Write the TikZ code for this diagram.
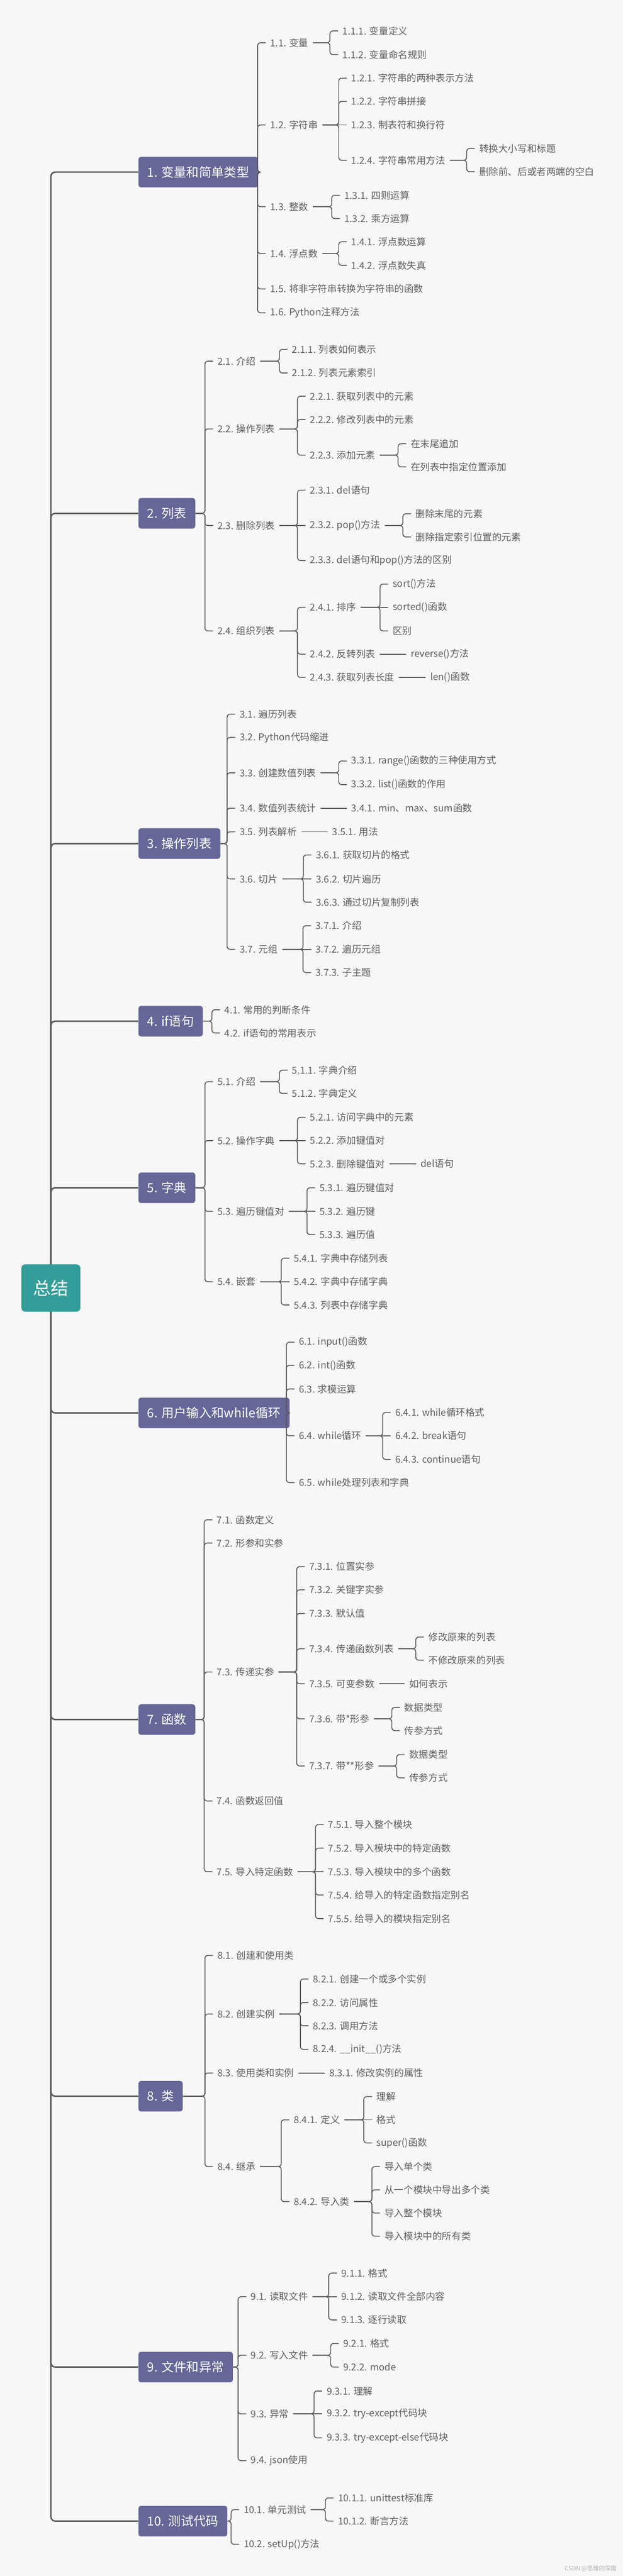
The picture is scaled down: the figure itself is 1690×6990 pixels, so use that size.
\documentclass[tikz,border=0pt]{standalone}
\usepackage{fontspec}
\setmainfont{Noto Sans CJK SC}
\usetikzlibrary{calc,positioning,backgrounds}

\definecolor{bgcol}{HTML}{F7F7F7}
\definecolor{topiccol}{HTML}{666699}
\definecolor{rootcol}{HTML}{339E99}
\definecolor{linecol}{HTML}{5A5A5A}
\definecolor{textcol}{HTML}{606060}

\tikzset{
  leaf/.style={anchor=west, xshift=-6pt, inner xsep=6pt, inner ysep=3pt, text=textcol, font=\fontsize{13pt}{15pt}\selectfont},
  topic/.style={anchor=west, fill=topiccol, rounded corners=4pt, text=white, inner xsep=12pt, minimum height=41.5pt, font=\fontsize{17pt}{20pt}\selectfont},
  link/.style={draw=linecol, line width=1.2pt, rounded corners=4pt},
  spine/.style={draw=linecol, line width=2pt, rounded corners=6pt}
}

% parent -> children through a vertical bus (straight when on the same row)
\newcommand\kids[2]{\foreach \c in {#2}{%
  \pgfpointdiff{\pgfpointanchor{#1}{east}}{\pgfpointanchor{\c}{west}}%
  \pgfgetlastxy{\kdx}{\kdy}%
  \pgfmathparse{abs(\kdy)<1?1:0}%
  \ifnum\pgfmathresult=1
    \draw[link] (#1.east) -- (\c.west);
  \else
    \draw[link] (#1.east) -- ($(#1.east -| \c.west)+(-11pt,0)$) |- (\c.west);
  \fi}}

\begin{document}
\begin{tikzpicture}[x=0.5pt,y=-0.5pt]

\fill[bgcol] (0,0) rectangle (1690,6990);

\node[fill=rootcol, rounded corners=5pt, text=white, minimum width=80pt, minimum height=64pt, font=\fontsize{24pt}{28pt}\selectfont] (root) at (138,3495) {总结};

% 1
\node[topic] (n1) at (375,467) {1. 变量和简单类型};
\node[leaf] (n11) at (733,116) {1.1. 变量};
\node[leaf] (n111) at (929,84) {1.1.1. 变量定义};
\node[leaf] (n112) at (929,148) {1.1.2. 变量命名规则};
\node[leaf] (n12) at (733,339) {1.2. 字符串};
\node[leaf] (n121) at (953,212) {1.2.1. 字符串的两种表示方法};
\node[leaf] (n122) at (953,275) {1.2.2. 字符串拼接};
\node[leaf] (n123) at (953,339) {1.2.3. 制表符和换行符};
\node[leaf] (n124) at (953,435) {1.2.4. 字符串常用方法};
\node[leaf] (n124a) at (1300,403) {转换大小写和标题};
\node[leaf] (n124b) at (1300,466) {删除前、后或者两端的空白};
\node[leaf] (n13) at (733,561) {1.3. 整数};
\node[leaf] (n131) at (934,530) {1.3.1. 四则运算};
\node[leaf] (n132) at (934,593) {1.3.2. 乘方运算};
\node[leaf] (n14) at (733,688) {1.4. 浮点数};
\node[leaf] (n141) at (953,656) {1.4.1. 浮点数运算};
\node[leaf] (n142) at (953,720) {1.4.2. 浮点数失真};
\node[leaf] (n15) at (733,784) {1.5. 将非字符串转换为字符串的函数};
\node[leaf] (n16) at (733,849) {1.6. Python注释方法};
\kids{n1}{n11,n12,n13,n14,n15,n16}
\kids{n11}{n111,n112}
\kids{n12}{n121,n122,n123,n124}
\kids{n124}{n124a,n124b}
\kids{n13}{n131,n132}
\kids{n14}{n141,n142}

% 2
\node[topic] (n2) at (375,1393) {2. 列表};
\node[leaf] (n21) at (590,980) {2.1. 介绍};
\node[leaf] (n211) at (792,948) {2.1.1. 列表如何表示};
\node[leaf] (n212) at (792,1012) {2.1.2. 列表元素索引};
\node[leaf] (n22) at (590,1164) {2.2. 操作列表};
\node[leaf] (n221) at (841,1075) {2.2.1. 获取列表中的元素};
\node[leaf] (n222) at (841,1138) {2.2.2. 修改列表中的元素};
\node[leaf] (n223) at (841,1235) {2.2.3. 添加元素};
\node[leaf] (n223a) at (1114,1204) {在末尾追加};
\node[leaf] (n223b) at (1114,1267) {在列表中指定位置添加};
\node[leaf] (n23) at (590,1426) {2.3. 删除列表};
\node[leaf] (n231) at (841,1330) {2.3.1. del语句};
\node[leaf] (n232) at (841,1426) {2.3.2. pop()方法};
\node[leaf] (n232a) at (1127,1394) {删除末尾的元素};
\node[leaf] (n232b) at (1127,1457) {删除指定索引位置的元素};
\node[leaf] (n233) at (841,1521) {2.3.3. del语句和pop()方法的区别};
\node[leaf] (n24) at (590,1712) {2.4. 组织列表};
\node[leaf] (n241) at (841,1648) {2.4.1. 排序};
\node[leaf] (n241a) at (1065,1585) {sort()方法};
\node[leaf] (n241b) at (1065,1648) {sorted()函数};
\node[leaf] (n241c) at (1065,1712) {区别};
\node[leaf] (n242) at (841,1775) {2.4.2. 反转列表};
\node[leaf] (n242a) at (1114,1775) {reverse()方法};
\node[leaf] (n243) at (841,1838) {2.4.3. 获取列表长度};
\node[leaf] (n243a) at (1167,1838) {len()函数};
\kids{n2}{n21,n22,n23,n24}
\kids{n21}{n211,n212}
\kids{n22}{n221,n222,n223}
\kids{n223}{n223a,n223b}
\kids{n23}{n231,n232,n233}
\kids{n232}{n232a,n232b}
\kids{n24}{n241,n242,n243}
\kids{n241}{n241a,n241b,n241c}
\kids{n242}{n242a}
\kids{n243}{n243a}

% 3
\node[topic] (n3) at (375,2289) {3. 操作列表};
\node[leaf] (n31) at (650,1938) {3.1. 遍历列表};
\node[leaf] (n32) at (650,2001) {3.2. Python代码缩进};
\node[leaf] (n33) at (650,2097) {3.3. 创建数值列表};
\node[leaf] (n331) at (953,2065) {3.3.1. range()函数的三种使用方式};
\node[leaf] (n332) at (953,2129) {3.3.2. list()函数的作用};
\node[leaf] (n34) at (650,2193) {3.4. 数值列表统计};
\node[leaf] (n341) at (953,2193) {3.4.1. min、max、sum函数};
\node[leaf] (n35) at (650,2257) {3.5. 列表解析};
\node[leaf] (n351) at (901,2257) {3.5.1. 用法};
\node[leaf] (n36) at (650,2385) {3.6. 切片};
\node[leaf] (n361) at (857,2320) {3.6.1. 获取切片的格式};
\node[leaf] (n362) at (857,2385) {3.6.2. 切片遍历};
\node[leaf] (n363) at (857,2448) {3.6.3. 通过切片复制列表};
\node[leaf] (n37) at (650,2576) {3.7. 元组};
\node[leaf] (n371) at (856,2512) {3.7.1. 介绍};
\node[leaf] (n372) at (856,2576) {3.7.2. 遍历元组};
\node[leaf] (n373) at (856,2639) {3.7.3. 子主题};
\kids{n3}{n31,n32,n33,n34,n35,n36,n37}
\kids{n33}{n331,n332}
\kids{n34}{n341}
\kids{n35}{n351}
\kids{n36}{n361,n362,n363}
\kids{n37}{n371,n372,n373}

% 4
\node[topic] (n4) at (375,2771) {4. if语句};
\node[leaf] (n41) at (609,2740) {4.1. 常用的判断条件};
\node[leaf] (n42) at (609,2803) {4.2. if语句的常用表示};
\kids{n4}{n41,n42}

% 5
\node[topic] (n5) at (375,3223) {5. 字典};
\node[leaf] (n51) at (590,2935) {5.1. 介绍};
\node[leaf] (n511) at (792,2904) {5.1.1. 字典介绍};
\node[leaf] (n512) at (792,2967) {5.1.2. 字典定义};
\node[leaf] (n52) at (590,3095) {5.2. 操作字典};
\node[leaf] (n521) at (841,3032) {5.2.1. 访问字典中的元素};
\node[leaf] (n522) at (841,3095) {5.2.2. 添加键值对};
\node[leaf] (n523) at (841,3158) {5.2.3. 删除键值对};
\node[leaf] (n523a) at (1141,3158) {del语句};
\node[leaf] (n53) at (590,3287) {5.3. 遍历键值对};
\node[leaf] (n531) at (867,3223) {5.3.1. 遍历键值对};
\node[leaf] (n532) at (867,3287) {5.3.2. 遍历键};
\node[leaf] (n533) at (867,3350) {5.3.3. 遍历值};
\node[leaf] (n54) at (590,3478) {5.4. 嵌套};
\node[leaf] (n541) at (797,3414) {5.4.1. 字典中存储列表};
\node[leaf] (n542) at (797,3478) {5.4.2. 字典中存储字典};
\node[leaf] (n543) at (797,3541) {5.4.3. 列表中存储字典};
\kids{n5}{n51,n52,n53,n54}
\kids{n51}{n511,n512}
\kids{n52}{n521,n522,n523}
\kids{n523}{n523a}
\kids{n53}{n531,n532,n533}
\kids{n54}{n541,n542,n543}

% 6
\node[topic] (n6) at (375,3834) {6. 用户输入和while循环};
\node[leaf] (n61) at (811,3642) {6.1. input()函数};
\node[leaf] (n62) at (811,3705) {6.2. int()函数};
\node[leaf] (n63) at (811,3769) {6.3. 求模运算};
\node[leaf] (n64) at (811,3896) {6.4. while循环};
\node[leaf] (n641) at (1072,3833) {6.4.1. while循环格式};
\node[leaf] (n642) at (1072,3896) {6.4.2. break语句};
\node[leaf] (n643) at (1072,3960) {6.4.3. continue语句};
\node[leaf] (n65) at (811,4023) {6.5. while处理列表和字典};
\kids{n6}{n61,n62,n63,n64,n65}
\kids{n64}{n641,n642,n643}

% 7
\node[topic] (n7) at (375,4666) {7. 函数};
\node[leaf] (n71) at (588,4124) {7.1. 函数定义};
\node[leaf] (n72) at (588,4187) {7.2. 形参和实参};
\node[leaf] (n73) at (588,4537) {7.3. 传递实参};
\node[leaf] (n731) at (839,4251) {7.3.1. 位置实参};
\node[leaf] (n732) at (839,4314) {7.3.2. 关键字实参};
\node[leaf] (n733) at (839,4378) {7.3.3. 默认值};
\node[leaf] (n734) at (839,4474) {7.3.4. 传递函数列表};
\node[leaf] (n734a) at (1162,4442) {修改原来的列表};
\node[leaf] (n734b) at (1162,4505) {不修改原来的列表};
\node[leaf] (n735) at (839,4569) {7.3.5. 可变参数};
\node[leaf] (n735a) at (1110,4569) {如何表示};
\node[leaf] (n736) at (839,4664) {7.3.6. 带*形参};
\node[leaf] (n736a) at (1097,4633) {数据类型};
\node[leaf] (n736b) at (1097,4696) {传参方式};
\node[leaf] (n737) at (839,4792) {7.3.7. 带**形参};
\node[leaf] (n737a) at (1110,4761) {数据类型};
\node[leaf] (n737b) at (1110,4824) {传参方式};
\node[leaf] (n74) at (588,4887) {7.4. 函数返回值};
\node[leaf] (n75) at (588,5079) {7.5. 导入特定函数};
\node[leaf] (n751) at (890,4951) {7.5.1. 导入整个模块};
\node[leaf] (n752) at (890,5015) {7.5.2. 导入模块中的特定函数};
\node[leaf] (n753) at (890,5079) {7.5.3. 导入模块中的多个函数};
\node[leaf] (n754) at (890,5142) {7.5.4. 给导入的特定函数指定别名};
\node[leaf] (n755) at (890,5206) {7.5.5. 给导入的模块指定别名};
\kids{n7}{n71,n72,n73,n74,n75}
\kids{n73}{n731,n732,n733,n734,n735,n736,n737}
\kids{n734}{n734a,n734b}
\kids{n735}{n735a}
\kids{n736}{n736a,n736b}
\kids{n737}{n737a,n737b}
\kids{n75}{n751,n752,n753,n754,n755}

% 8
\node[topic] (n8) at (375,5688) {8. 类};
\node[leaf] (n81) at (590,5306) {8.1. 创建和使用类};
\node[leaf] (n82) at (590,5465) {8.2. 创建实例};
\node[leaf] (n821) at (849,5370) {8.2.1. 创建一个或多个实例};
\node[leaf] (n822) at (849,5434) {8.2.2. 访问属性};
\node[leaf] (n823) at (849,5497) {8.2.3. 调用方法};
\node[leaf] (n824) at (849,5561) {8.2.4. \_\_init\_\_()方法};
\node[leaf] (n83) at (590,5625) {8.3. 使用类和实例};
\node[leaf] (n831) at (893,5625) {8.3.1. 修改实例的属性};
\node[leaf] (n84) at (590,5879) {8.4. 继承};
\node[leaf] (n841) at (797,5752) {8.4.1. 定义};
\node[leaf] (n841a) at (1021,5689) {理解};
\node[leaf] (n841b) at (1021,5752) {格式};
\node[leaf] (n841c) at (1021,5815) {super()函数};
\node[leaf] (n842) at (797,5974) {8.4.2. 导入类};
\node[leaf] (n842a) at (1043,5879) {导入单个类};
\node[leaf] (n842b) at (1043,5942) {从一个模块中导出多个类};
\node[leaf] (n842c) at (1043,6005) {导入整个模块};
\node[leaf] (n842d) at (1043,6068) {导入模块中的所有类};
\kids{n8}{n81,n82,n83,n84}
\kids{n82}{n821,n822,n823,n824}
\kids{n83}{n831}
\kids{n84}{n841,n842}
\kids{n841}{n841a,n841b,n841c}
\kids{n842}{n842a,n842b,n842c,n842d}

% 9
\node[topic] (n9) at (375,6423) {9. 文件和异常};
\node[leaf] (n91) at (680,6232) {9.1. 读取文件};
\node[leaf] (n911) at (926,6168) {9.1.1. 格式};
\node[leaf] (n912) at (926,6232) {9.1.2. 读取文件全部内容};
\node[leaf] (n913) at (926,6295) {9.1.3. 逐行读取};
\node[leaf] (n92) at (680,6391) {9.2. 写入文件};
\node[leaf] (n921) at (931,6359) {9.2.1. 格式};
\node[leaf] (n922) at (931,6423) {9.2.2. mode};
\node[leaf] (n93) at (680,6550) {9.3. 异常};
\node[leaf] (n931) at (886,6488) {9.3.1. 理解};
\node[leaf] (n932) at (886,6550) {9.3.2. try-except代码块};
\node[leaf] (n933) at (886,6615) {9.3.3. try-except-else代码块};
\node[leaf] (n94) at (680,6677) {9.4. json使用};
\kids{n9}{n91,n92,n93,n94}
\kids{n91}{n911,n912,n913}
\kids{n92}{n921,n922}
\kids{n93}{n931,n932,n933}

% 10
\node[topic] (n10) at (375,6841) {10. 测试代码};
\node[leaf] (n101) at (661,6810) {10.1. 单元测试};
\node[leaf] (n1011) at (917,6778) {10.1.1. unittest标准库};
\node[leaf] (n1012) at (917,6841) {10.1.2. 断言方法};
\node[leaf] (n102) at (661,6904) {10.2. setUp()方法};
\kids{n10}{n101,n102}
\kids{n101}{n1011,n1012}

% spine
\foreach \m in {n1,n2,n3,n4,n5}{\draw[spine] (root.north) |- (\m.west);}
\foreach \m in {n6,n7,n8,n9,n10}{\draw[spine] (root.south) |- (\m.west);}

\node[anchor=east, text=gray!60, font=\fontsize{8pt}{9pt}\selectfont] (mark) at (1680,6970) {CSDN @思维的深度};

\end{tikzpicture}
\end{document}
